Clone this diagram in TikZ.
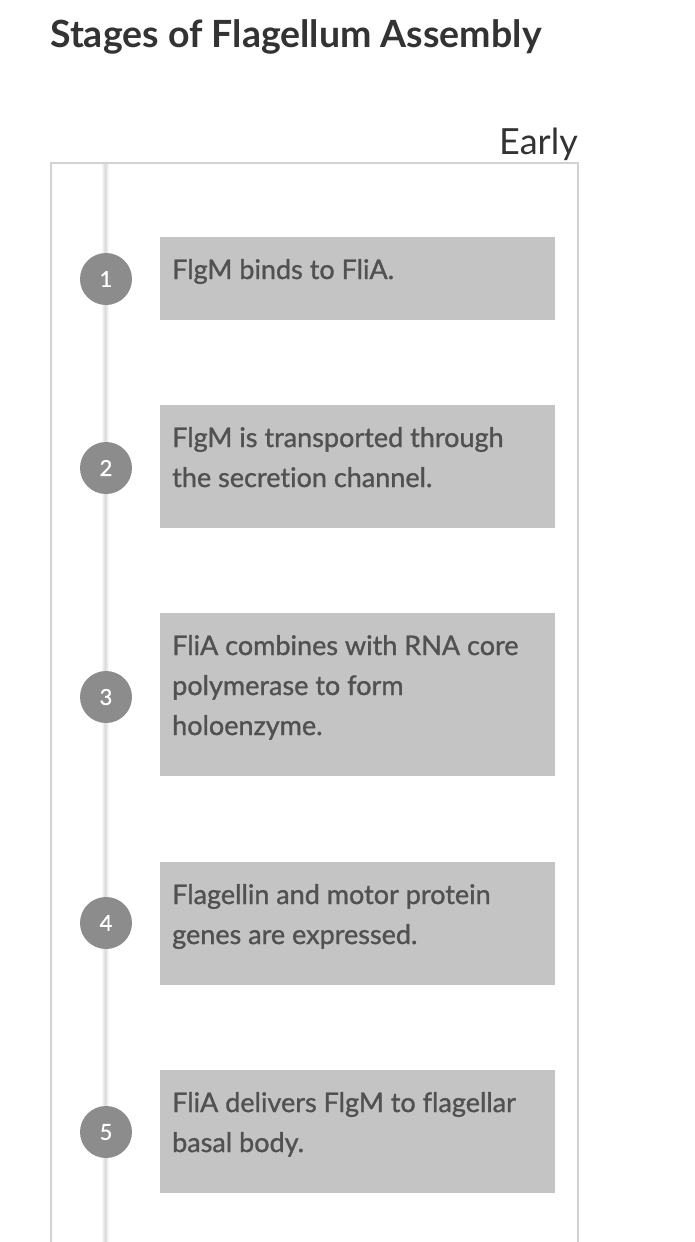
\documentclass[tikz,border=0pt]{standalone}
\usepackage{fontspec}
\setmainfont{Lato}
\newfontfamily\boxfont{Lato}[FakeBold=1.1,Ligatures=NoCommon]
\newfontfamily\numfont{Lato}[FakeBold=0.8]
\definecolor{frame}{HTML}{D2D2D2}
\definecolor{boxfill}{HTML}{C4C4C4}
\definecolor{boxtext}{HTML}{515151}
\definecolor{dotfill}{HTML}{8C8C8C}
\definecolor{titlecol}{HTML}{333333}
\definecolor{rail}{HTML}{DADADA}
\tikzset{
  stepbox/.style={draw=none, fill=boxfill, anchor=north west, minimum width=395pt, inner sep=0pt},
  steptext/.style={anchor=base west, inner sep=0pt, text=boxtext, font=\boxfont\fontsize{27}{40}\selectfont},
  stepdot/.style={circle, fill=dotfill, minimum size=52pt, inner sep=0pt, text=white, font=\numfont\fontsize{22}{22}\selectfont},
}
\begin{document}
\begin{tikzpicture}[x=1pt,y=-1pt]
\useasboundingbox (0,0) rectangle (694,1242);
\fill[white] (0,0) rectangle (694,1242);
\node[anchor=base west, inner sep=0pt, text=titlecol, font=\bfseries\fontsize{37.5}{40}\selectfont] (title) at (50,47) {Stages of Flagellum Assembly};
\node[anchor=base east, inner sep=0pt, text=titlecol, font=\fontsize{36}{40}\selectfont] (early) at (578,154) {Early};
% frame
\draw[frame, line width=2pt] (51,1250) -- (51,163) -- (578,163) -- (578,1250);
% rail
\shade[left color=white, right color=white, middle color=rail] (101,164) rectangle (109,1242);
% boxes
\node[stepbox, minimum height=83pt] (b1) at (160,237) {};
\node[stepbox, minimum height=123pt] (b2) at (160,405) {};
\node[stepbox, minimum height=163pt] (b3) at (160,613) {};
\node[stepbox, minimum height=123pt] (b4) at (160,862) {};
\node[stepbox, minimum height=123pt] (b5) at (160,1070) {};
\node[steptext] (t1) at ([xshift=12pt,yshift=-42pt]b1.north west) {\parbox[t]{380pt}{\raggedright FlgM binds to FliA.}};
\node[steptext] (t2) at ([xshift=12pt,yshift=-42pt]b2.north west) {\parbox[t]{380pt}{\raggedright FlgM is transported through\\the secretion channel.}};
\node[steptext] (t3) at ([xshift=12pt,yshift=-42pt]b3.north west) {\parbox[t]{380pt}{\raggedright FliA combines with RNA core\\polymerase to form\\holoenzyme.}};
\node[steptext] (t4) at ([xshift=12pt,yshift=-42pt]b4.north west) {\parbox[t]{380pt}{\raggedright Flagellin and motor protein\\genes are expressed.}};
\node[steptext] (t5) at ([xshift=12pt,yshift=-42pt]b5.north west) {\parbox[t]{380pt}{\raggedright FliA delivers FlgM to flagellar\\basal body.}};
% dots
\node[stepdot] (d1) at (106,279) {1};
\node[stepdot] (d2) at (106,468) {2};
\node[stepdot] (d3) at (106,697) {3};
\node[stepdot] (d4) at (106,923) {4};
\node[stepdot] (d5) at (106,1132) {5};
\end{tikzpicture}
\end{document}
